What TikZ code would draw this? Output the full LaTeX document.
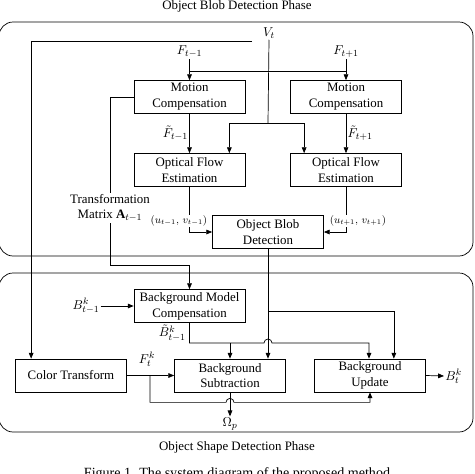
\documentclass[tikz,border=0pt]{standalone}
\usepackage{fontspec}
\setmainfont{Liberation Serif}
\usetikzlibrary{calc,arrows.meta}

\begin{document}
\begin{tikzpicture}[
  % Pixel grid of the figure: x goes right, y goes down
  x={(0.03cm, 0cm)},
  y={(0cm, -0.03cm)},
  blk/.style={
    rectangle, draw, line width=0.6pt,
    minimum width=3.33cm, minimum height=0.99cm,
    inner sep=1pt, align=center,
    font=\fontsize{11}{13.5}\selectfont
  },
  lbl/.style={inner sep=1pt, font=\fontsize{11}{13.5}\selectfont},
  small/.style={inner sep=0.5pt, font=\fontsize{9}{11}\selectfont},
  phase/.style={draw, line width=0.6pt, rounded corners=12pt},
  arr/.style={line width=0.6pt, -{Triangle[length=5pt,width=4pt]}},
  ln/.style={line width=0.6pt},
]
\useasboundingbox (0,0) rectangle (474,474);

% --- Phase frames and titles ---
\draw[phase] (-1,22) rectangle (473,256);
\draw[phase] (-1,273) rectangle (473,432);
\node[lbl, anchor=base] (ttop) at (237,9) {Object Blob Detection Phase};
\node[lbl, anchor=base] (tbot) at (237,450) {Object Shape Detection Phase};
\node[lbl, anchor=base, font=\fontsize{12}{14}\selectfont] (cap) at (237,477)
  {Figure 1. The system diagram of the proposed method};

% --- Blocks ---
\node[blk] (mc1) at (189.5,97) {Motion\\Compensation};
\node[blk] (mc2) at (346,97) {Motion\\Compensation};
\node[blk] (of1) at (189.5,170) {Optical Flow\\Estimation};
\node[blk] (of2) at (346,170) {Optical Flow\\Estimation};
\node[blk] (obd) at (268,232) {Object Blob\\Detection};
\node[blk] (bmc) at (189.5,306) {Background Model\\Compensation};
\node[blk] (ct) at (71,375.5) {Color Transform};
\node[blk] (bs) at (230,375.5) {Background\\Subtraction};
\node[blk] (bu) at (370,375.5) {Background\\Update};

% --- Inputs and outputs ---
\node[lbl] (vt) at (269,33) {$V_t$};
\node[lbl] (fm) at (189.5,52) {$F_{t-1}$};
\node[lbl] (fp) at (346,52) {$F_{t+1}$};
\node[lbl] (bprev) at (86,306) {$B_{t-1}^k$};
\node[lbl] (om) at (230,424) {$\Omega_p$};
\node[lbl, anchor=west] (bt) at (444,376) {$B_t^k$};

\coordinate (vl) at (252,41);
\coordinate (vj) at (268,123);
\coordinate (fj) at (189.5,71);
\coordinate (tm) at (110,265);
\coordinate (bj) at (268,311);
\coordinate (hb) at (189.5,343);
\coordinate (fj2) at (150,375.5);

% --- Frames into motion compensation ---
\draw[arr] (fm.south) -- (mc1.north);
\draw[arr] (fp.south) -- (mc2.north);
\draw[ln] (fj) -- (fj -| fp.south);

% --- V_t branches ---
\draw[ln] (vt.south) -- (vj);
\draw[arr] (vj) -| ($(of1.north east)+(-16,0)$);
\draw[arr] (vj) -| ($(of2.north west)+(14,0)$);
\draw[arr] (vl) -| ($(ct.north west)+(16,0)$);

% --- Motion compensation to optical flow ---
\draw[arr] (mc1.south) -- node[lbl, left] {$\tilde{F}_{t-1}$} (of1.north);
\draw[arr] (mc2.south) -- node[lbl, right] {$\tilde{F}_{t+1}$} (of2.north);

% --- Transformation matrix into background model ---
\draw[arr] (mc1.west) -| (tm) -| (bmc.north);
\node[lbl, fill=white, align=center] (tmx) at (110,208)
  {Transformation\\Matrix $\mathbf{A}_{t-1}$};

% --- Optical flow into blob detection ---
\draw[arr] (of1.south) |- (obd.west);
\draw[arr] (of2.south) |- (obd.east);
\node[small, fill=white, anchor=east] (uv1) at (208,221) {$(u_{t-1},\,v_{t-1})$};
\node[small, fill=white, anchor=west] (uv2) at (329,221) {$(u_{t+1},\,v_{t+1})$};

% --- Blob detection into shape phase ---
\draw[arr] (obd.south) -- (obd.south |- bs.north);
\draw[arr] (bj) -| ($(bu.north east)+(-32,0)$);

% --- Background model ---
\draw[arr] (bprev) -- (bmc.west);
\node[lbl, anchor=east] (btil) at (187,333) {$\tilde{B}_{t-1}^k$};
\draw[arr] (bmc.south) -- (hb) -- (264,343)
  arc[start angle=180, end angle=0, radius=0.12cm]
  -| ($(bu.north)+(-1,0)$);
\draw[arr] (bs.north |- hb) -- (bs.north);

% --- Color transform, subtraction and update ---
\draw[arr] (ct.east) -- (bs.west);
\node[lbl] (fk) at (147,359) {$F_t^k$};
\draw[arr] (fj2) |- ($(bs.south)+(-4,10)$)
  arc[start angle=180, end angle=0, radius=0.12cm]
  -| (bu.south);
\draw[arr] (bs.south) -- (om.north);
\draw[arr] (bu.east) -- (bt.west);

\end{tikzpicture}
\end{document}
